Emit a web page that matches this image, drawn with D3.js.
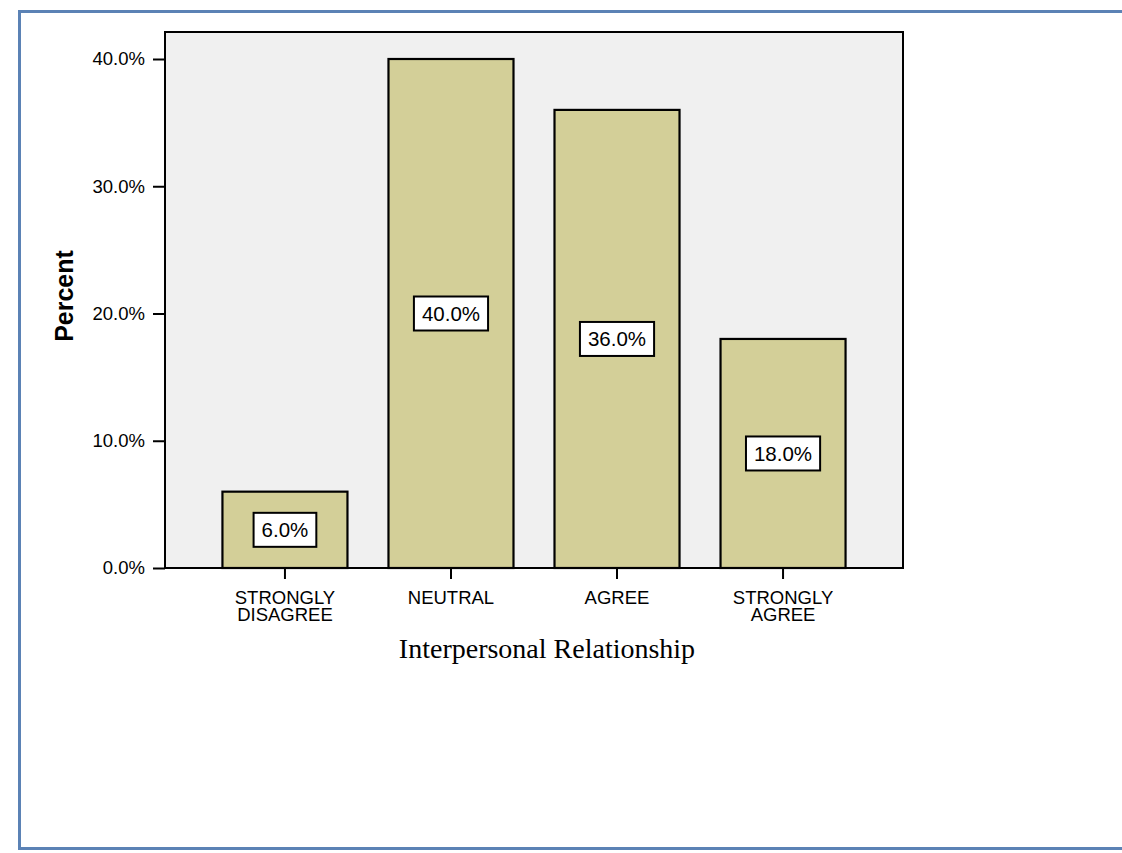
<!DOCTYPE html>
<html>
<head>
<meta charset="utf-8">
<script src="https://cdn.jsdelivr.net/npm/d3@7"></script>
<style>
  body { margin: 0; background: #fff; }
  svg { display: block; }
</style>
</head>
<body>
<svg id="chart" width="1122" height="853"></svg>
<script>
// data
const categories = ["STRONGLY DISAGREE", "NEUTRAL", "AGREE", "STRONGLY AGREE"];
const percents = [6.0, 40.0, 36.0, 18.0];
const yTicks = [0, 10, 20, 30, 40];
const xTitle = "Interpersonal Relationship";
const yTitle = "Percent";

const svg = d3.select("#chart");

// outer frame (blue, right side runs off the page)
svg.append("path")
    .attr("d", "M1125,11.5 H19.5 V848.5 H1125")
    .attr("fill", "none")
    .attr("stroke", "#5b82b5")
    .attr("stroke-width", 3);

let plot = { left: 165, top: 32, right: 903, bottom: 568 };

let x = d3.scaleBand()
    .domain(categories)
    .range([plot.left, plot.right])
    .paddingInner(0.247)
    .paddingOuter(0.346);

let y = d3.scaleLinear()
    .domain([0, 40])
    .range([plot.bottom, plot.bottom - 509]);

// plot background
svg.append("rect")
    .attr("x", plot.left)
    .attr("y", plot.top)
    .attr("width", plot.right - plot.left)
    .attr("height", plot.bottom - plot.top)
    .attr("fill", "#f0f0f0")
    .attr("stroke", "#000")
    .attr("stroke-width", 2);

// bars
let bars = svg.selectAll(".bar").data(categories).enter().append("g");

bars.append("rect")
    .attr("class", "bar")
    .attr("x", (d) => x(d))
    .attr("y", (d, i) => y(percents[i]))
    .attr("width", x.bandwidth())
    .attr("height", (d, i) => y(0) - y(percents[i]))
    .attr("fill", "#d3cf98")
    .attr("stroke", "#000")
    .attr("stroke-width", 2.2);

// value labels in white boxes
bars.each(function (d, i) {
    let g = d3.select(this);
    let cx = x(d) + x.bandwidth() / 2;
    let cy = y(percents[i] / 2);
    let t = g.append("text")
        .text(percents[i].toFixed(1) + "%")
        .attr("x", cx)
        .attr("y", cy)
        .attr("dy", "0.36em")
        .attr("text-anchor", "middle")
        .attr("font-family", "Liberation Sans, Arial, sans-serif")
        .attr("font-size", "20.5px")
        .attr("fill", "#000");
    let w = t.node().getBBox().width + 16;
    g.insert("rect", "text")
        .attr("x", cx - w / 2)
        .attr("y", cy - 17)
        .attr("width", w)
        .attr("height", 34)
        .attr("fill", "#fff")
        .attr("stroke", "#000")
        .attr("stroke-width", 2);
});

// y axis
let yAxis = svg.append("g")
    .attr("transform", "translate(" + plot.left + ",0)")
    .call(d3.axisLeft(y).tickValues(yTicks).tickSize(12).tickPadding(8)
        .tickFormat((d) => d.toFixed(1) + "%"));
yAxis.select(".domain").remove();
yAxis.selectAll("line").attr("stroke-width", 2);
yAxis.selectAll("text")
    .attr("font-family", "Liberation Sans, Arial, sans-serif")
    .attr("font-size", "18.5px")
    .attr("fill", "#000");

// x axis
let xAxis = svg.append("g")
    .attr("transform", "translate(0," + plot.bottom + ")")
    .call(d3.axisBottom(x).tickSize(11).tickFormat(""));
xAxis.select(".domain").remove();
xAxis.selectAll("line").attr("stroke-width", 2);

xAxis.selectAll(".tick").each(function (d) {
    let words = d.split(" ");
    let t = d3.select(this).append("text")
        .attr("text-anchor", "middle")
        .attr("font-family", "Liberation Sans, Arial, sans-serif")
        .attr("font-size", "18.5px")
        .attr("fill", "#000");
    words.forEach((w, k) => {
        t.append("tspan")
            .attr("x", 0)
            .attr("y", 35.5 + k * 17)
            .text(w);
    });
});

// axis titles
svg.append("text")
    .text(xTitle)
    .attr("x", (plot.left + plot.right) / 2 + 13)
    .attr("y", 658)
    .attr("text-anchor", "middle")
    .attr("font-family", "Liberation Serif, Times New Roman, serif")
    .attr("font-size", "28px")
    .attr("fill", "#000");

svg.append("text")
    .text(yTitle)
    .attr("transform", "translate(73,296) rotate(-90)")
    .attr("text-anchor", "middle")
    .attr("font-family", "Liberation Sans, Arial, sans-serif")
    .attr("font-weight", "bold")
    .attr("font-size", "25px")
    .attr("fill", "#000");
</script>
</body>
</html>
